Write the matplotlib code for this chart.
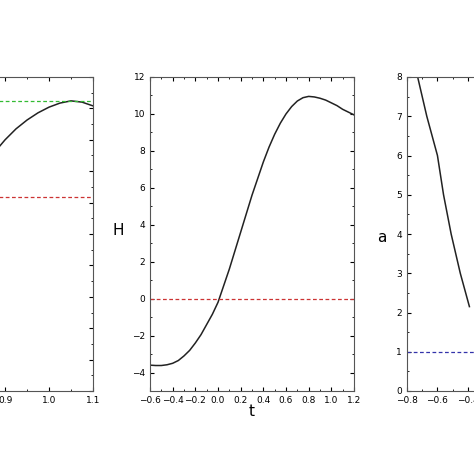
import numpy as np
import matplotlib
matplotlib.use("Agg")
import matplotlib.pyplot as plt
from matplotlib.ticker import MultipleLocator

# middle panel: H(t)
t_mid = [-0.6, -0.55, -0.5, -0.45, -0.4, -0.35, -0.3, -0.25, -0.2, -0.15, -0.1, -0.05, 0.0, 0.05, 0.1, 0.15, 0.2,
         0.25, 0.3, 0.35, 0.4, 0.45, 0.5, 0.55, 0.6, 0.65, 0.7, 0.75, 0.8, 0.85, 0.9, 0.95, 1.0, 1.05, 1.1, 1.15, 1.2]
H_mid = [-3.6, -3.62, -3.62, -3.58, -3.5, -3.35, -3.1, -2.8, -2.4, -1.95, -1.4, -0.85, -0.2, 0.7, 1.6, 2.6, 3.6,
         4.6, 5.6, 6.5, 7.4, 8.2, 8.9, 9.5, 10.0, 10.4, 10.7, 10.88, 10.95, 10.92, 10.85, 10.75, 10.6, 10.45, 10.25, 10.1, 9.95]
H_ref = 0.0

# left panel (partially visible)
t_left = [0.88, 0.9, 0.925, 0.95, 0.975, 1.0, 1.025, 1.05, 1.075, 1.1]
y_left = [7.67, 8.0, 8.35, 8.63, 8.86, 9.04, 9.17, 9.24, 9.2, 9.08]
y_left_green = 9.24
y_left_red = 6.18

# right panel: a(t) (partially visible)
t_right = [-0.73, -0.67, -0.60, -0.56, -0.51, -0.45, -0.39]
a_right = [8.0, 7.0, 6.0, 5.0, 4.0, 3.0, 2.15]
a_ref = 1.0

W = H = 474.0
fig = plt.figure(figsize=(4.74, 4.74), dpi=100)

def ax_px(x0, x1, ytop, ybot):
    return fig.add_axes([x0 / W, 1 - ybot / H, (x1 - x0) / W, (ybot - ytop) / H])

def style(ax):
    ax.tick_params(direction='in', which='both', labelsize=6.5, top=True, right=True, length=3)
    ax.tick_params(which='minor', length=1.5)
    for s in ax.spines.values():
        s.set_color('#555555'); s.set_linewidth(0.8)

# left
axl = ax_px(-111, 93, 77, 391)
axl.plot(t_left, y_left, color='#222222', lw=1.1)
axl.axhline(y_left_green, color='#33bb33', ls='--', lw=0.9, dashes=(3, 2))
axl.axhline(y_left_red, color='#cc3333', ls='--', lw=0.9, dashes=(3, 2))
axl.set_xlim(0.636, 1.1); axl.set_ylim(0, 10)
axl.xaxis.set_major_locator(MultipleLocator(0.1)); axl.xaxis.set_minor_locator(MultipleLocator(0.05))
axl.yaxis.set_major_locator(MultipleLocator(1)); axl.yaxis.set_minor_locator(MultipleLocator(0.5))
style(axl)

# middle
axm = ax_px(150, 354, 77, 391)
axm.plot(t_mid, H_mid, color='#222222', lw=1.1)
axm.axhline(H_ref, color='#cc3333', ls='--', lw=0.9, dashes=(3, 2))
axm.set_xlim(-0.6, 1.2); axm.set_ylim(-5, 12)
axm.xaxis.set_major_locator(MultipleLocator(0.2)); axm.xaxis.set_minor_locator(MultipleLocator(0.1))
axm.yaxis.set_major_locator(MultipleLocator(2)); axm.yaxis.set_minor_locator(MultipleLocator(1))
style(axm)
fig.text(118 / W, 1 - 231 / H, 'H', fontsize=11, ha='center', va='center')
fig.text(252 / W, 1 - 412 / H, 't', fontsize=11, ha='center', va='center')

# right
axr = ax_px(407, 611, 77, 391)
axr.plot(t_right, a_right, color='#222222', lw=1.1)
axr.axhline(a_ref, color='#3333aa', ls='--', lw=0.9, dashes=(3, 2))
axr.set_xlim(-0.8, 0.54); axr.set_ylim(0, 8)
axr.xaxis.set_major_locator(MultipleLocator(0.2)); axr.xaxis.set_minor_locator(MultipleLocator(0.1))
axr.yaxis.set_major_locator(MultipleLocator(1)); axr.yaxis.set_minor_locator(MultipleLocator(0.5))
style(axr)
fig.text(382 / W, 1 - 237 / H, 'a', fontsize=11, ha='center', va='center')

fig.savefig('out.png', dpi=100)
